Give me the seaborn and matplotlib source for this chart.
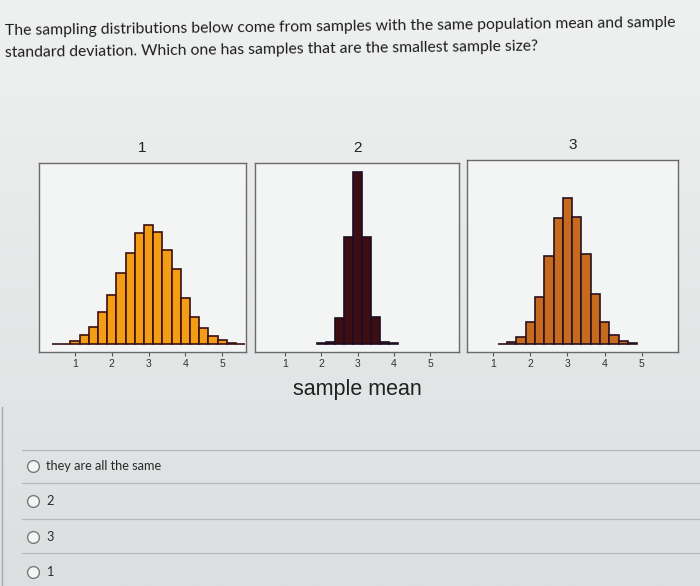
# -*- coding: utf-8 -*-

import matplotlib
matplotlib.use("Agg")
import matplotlib.pyplot as plt
import numpy as np
import seaborn as sns

# Data (heights in arbitrary count units)
centers1 = [0.5, 0.75, 1.0, 1.25, 1.5, 1.75, 2.0, 2.25, 2.5, 2.75, 3.0,
            3.25, 3.5, 3.75, 4.0, 4.25, 4.5, 4.75, 5.0, 5.25, 5.5]
counts1 = [1, 1, 8, 27, 51, 98, 148, 217, 278, 336, 361,
           340, 286, 228, 140, 83, 48, 25, 11, 3, 1]

centers2 = [2.0, 2.25, 2.5, 2.75, 3.0, 3.25, 3.5, 3.75, 4.0]
counts2 = [2, 7, 79, 324, 522, 326, 82, 6, 2]

centers3 = [1.25, 1.5, 1.75, 2.0, 2.25, 2.5, 2.75, 3.0,
            3.25, 3.5, 3.75, 4.0, 4.25, 4.5, 4.75]
counts3 = [1, 6, 20, 65, 140, 263, 378, 435, 381, 270, 148, 65, 26, 8, 3]

panel_titles = ["1", "2", "3"]
tick_values = [1, 2, 3, 4, 5]
question = ["The sampling distributions below come from samples with the same population mean and sample",
            "standard deviation. Which one has samples that are the smallest sample size?"]
options = ["they are all the same", "2", "3", "1"]

BINW = 0.25

sns.set_theme(style="white")
plt.rcParams['font.family'] = ['Liberation Sans', 'DejaVu Sans']

W, H = 700, 586
fig = plt.figure(figsize=(7.0, 5.86), dpi=100)
fig.patch.set_facecolor("#E8EAEA")

# overlay in pixel coordinates for the page decoration
page = fig.add_axes([0, 0, 1, 1])
page.set_xlim(0, W)
page.set_ylim(H, 0)
page.axis("off")
page.set_zorder(0)

# screen photo: lighter at the top, greyer towards the answers
top_c = np.array([239, 241, 240]) / 255
bot_c = np.array([220, 223, 224]) / 255
t = np.linspace(0, 1, 256)[:, None, None]
grad = top_c * (1 - t) + bot_c * t
page.imshow(grad, extent=(0, W, H, 0), aspect="auto", zorder=0)
page.set_xlim(0, W)
page.set_ylim(H, 0)

for i, line in enumerate(question):
    page.text(5, 27 + i * 23, line, family="Lato", fontsize=11.3,
              color="#1e1e1e", va="center", ha="left", rotation=0.7)

# answer rows
for yy in [450, 483, 519, 553]:
    page.plot([22, W], [yy, yy], color="#B5B8B8", lw=0.9)
page.plot([2, 2], [407, H], color="#A8ABAB", lw=1.0)
for i, opt in enumerate(options):
    yy = 466 + i * 35.3
    page.plot(33, yy, marker="o", ms=8.5, mfc="#F4F5F5", mec="#7a7a7a", mew=1.0)
    page.text(46, yy, opt, family="Lato", fontsize=9.2, color="#2a2a2a",
              va="center", ha="left")


def panel(px, centers, counts, fill, edge, xlim, title):
    left, top, right, bottom = px
    ax = fig.add_axes([left / W, 1 - bottom / H, (right - left) / W, (bottom - top) / H])
    edges = [c - BINW / 2 for c in centers] + [centers[-1] + BINW / 2]
    sns.histplot(x=centers, weights=counts, bins=edges, ax=ax, color=fill,
                 edgecolor=edge, linewidth=1.2, alpha=1)
    ax.set_facecolor("#F3F4F4")
    ax.set_xlim(*xlim)
    ax.set_ylim(-24, 550)
    ax.set_xticks(tick_values)
    ax.set_xticklabels([str(t) for t in tick_values], fontsize=7.5, color="#333333")
    ax.set_yticks([])
    ax.set_xlabel("")
    ax.set_ylabel("")
    ax.tick_params(axis="x", direction="out", length=3, width=0.8,
                   color="#555555", bottom=True, pad=2)
    for s in ax.spines.values():
        s.set_color("#6a6a6a")
        s.set_linewidth(1.0)
    ax.set_title(title, fontsize=11, color="#222222", pad=8)
    return ax


panel((39, 163, 246, 352), centers1, counts1, "#F39D14", "#3b0f10", (0.02, 5.65), panel_titles[0])
panel((255, 163, 459, 352), centers2, counts2, "#3C0E14", "#1d0d22", (0.17, 5.8), panel_titles[1])
panel((467, 160, 678, 352), centers3, counts3, "#C66A1E", "#2a1020", (0.3, 5.97), panel_titles[2])

page.text(357, 390, "sample mean", fontsize=15.5, color="#222222", ha="center", va="center")

fig.savefig("out.png", dpi=100, facecolor=fig.get_facecolor())
